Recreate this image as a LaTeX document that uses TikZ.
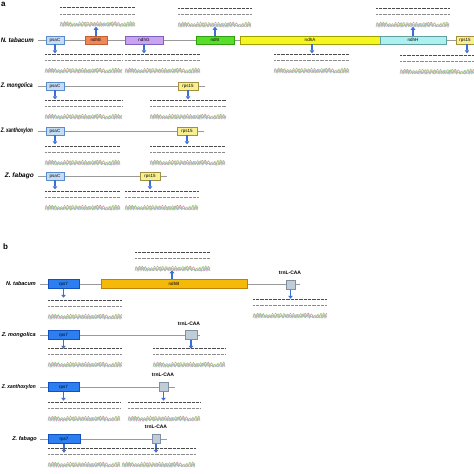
\documentclass[tikz,border=0pt]{standalone}
\usepackage{fontspec}
\setmainfont{Liberation Sans}
\usetikzlibrary{arrows.meta}
\definecolor{arrowblue}{HTML}{3A6FD8}
\definecolor{lineg}{HTML}{9A9A9A}
\definecolor{psaCf}{HTML}{C5DCF5}\definecolor{psaCd}{HTML}{5A8AD0}
\definecolor{ndhEf}{HTML}{F0875A}\definecolor{ndhEd}{HTML}{C06030}
\definecolor{ndhGf}{HTML}{C9A2F0}\definecolor{ndhGd}{HTML}{8060C0}
\definecolor{ndhIf}{HTML}{58DD2C}\definecolor{ndhId}{HTML}{30A010}
\definecolor{ndhAf}{HTML}{F5F522}\definecolor{ndhAd}{HTML}{A0A000}
\definecolor{ndhHf}{HTML}{AEF0F0}\definecolor{ndhHd}{HTML}{60A0A0}
\definecolor{rpsXVf}{HTML}{F8F090}\definecolor{rpsXVd}{HTML}{A09040}
\definecolor{rpsVIIf}{HTML}{2D7FF0}\definecolor{rpsVIId}{HTML}{1050C0}
\definecolor{ndhBf}{HTML}{F5B90A}\definecolor{ndhBd}{HTML}{C08000}
\definecolor{trnf}{HTML}{C0CCD8}\definecolor{trnd}{HTML}{8090A0}
\definecolor{chpink}{HTML}{E6A0C0}\definecolor{chgreen}{HTML}{9CD67E}
\definecolor{cholive}{HTML}{B4AC88}\definecolor{chblue}{HTML}{98B0E4}
\tikzset{
  gene/.style={draw, line width=0.5pt, inner sep=0pt, minimum height=8pt,
    font=\fontsize{4.5}{5}\selectfont},
  geneb/.style={gene, minimum height=9pt},
  spa/.style={font=\fontsize{6.5}{7}\selectfont\bfseries\itshape, anchor=east, inner sep=0pt},
  spb/.style={font=\fontsize{5.5}{6}\selectfont\bfseries\itshape, anchor=east, inner sep=0pt},
  panel/.style={font=\fontsize{8}{9}\selectfont\bfseries, inner sep=0pt},
  bbone/.style={draw=lineg, line width=0.8pt},
  arr/.style={draw=arrowblue, line width=1.5pt, -{Triangle[width=4.5pt,length=3pt]}},
  seqA/.style={draw=black!70, line width=0.85pt, dash pattern=on 0.8pt off 0.5pt},
  seqB/.style={draw=black!45, line width=0.7pt, dash pattern=on 0.7pt off 0.6pt},
  chr/.style={line width=0.45pt},
  trnlab/.style={font=\fontsize{5}{6}\selectfont\bfseries}
}
\newcommand\seqblk[3]{%
  \draw[seqA] (#1,#3) -- (#2,#3);
  \draw[seqB] (#1,#3+6.5) -- (#2,#3+6.5);
  \draw[chr,draw=cholive] plot[domain=0:#2-#1,samples=150] ({#1+\x},{#3+19-5*abs(sin(60*\x))*(0.35+0.65*abs(sin(11*\x+30)))});
  \draw[chr,draw=chpink] plot[domain=0:#2-#1,samples=150] ({#1+\x},{#3+19-4.5*abs(sin(47*\x+40))*(0.3+0.7*abs(sin(7*\x+70)))});
  \draw[chr,draw=chgreen] plot[domain=0:#2-#1,samples=150] ({#1+\x},{#3+19-4.6*abs(sin(53*\x+80))*(0.3+0.7*abs(sin(9*\x+10)))});
  \draw[chr,draw=chblue,opacity=0.8] plot[domain=0:#2-#1,samples=150] ({#1+\x},{#3+19-3.4*abs(sin(41*\x+20))*(0.3+0.7*abs(sin(5*\x+50)))});
}
% name, x1, x2, y, fill, draw, label, style
\newcommand\genebox[8]{%
  \node[#8, fill=#5, draw=#6, minimum width={#3-#2}] (#1) at ({(#2+#3)/2},#4) {#7};
}
\newcommand\fitlab[2]{\resizebox{#1}{\height}{#2}}
\begin{document}
\begin{tikzpicture}[x=1pt,y=-1pt]
\useasboundingbox[fill=white] (0,0) rectangle (474,474);

% ================= panel a =================
\node[panel, anchor=north west] (pa) at (1,2) {a};

% ---- N. tabacum (a)
\node[spa] (sa1) at (34,40) {\fitlab{33pt}{N. tabacum}};
\coordinate (la1s) at (38,40); \coordinate (la1e) at (480,40);
\draw[bbone] (la1s) -- (la1e);
\genebox{psaCa}{46}{64}{40}{psaCf}{psaCd}{psaC}{gene}
\genebox{ndhE}{85}{107}{40}{ndhEf}{ndhEd}{ndhE}{gene}
\genebox{ndhG}{125}{163}{40}{ndhGf}{ndhGd}{ndhG}{gene}
\genebox{ndhI}{196}{234}{40}{ndhIf}{ndhId}{ndhI}{gene}
\genebox{ndhA}{240}{380}{40}{ndhAf}{ndhAd}{ndhA}{gene}
\genebox{ndhH}{380}{446}{40}{ndhHf}{ndhHd}{ndhH}{gene}
\genebox{rpsa}{456}{480}{40}{rpsXVf}{rpsXVd}{\hspace*{-6pt}rps15}{gene}
\draw[arr] (psaCa.south) -- ++(0,9);
\draw[arr] (ndhE.north) -- ++(0,-9);
\draw[arr] (ndhG.south) -- ++(0,9);
\draw[arr] (ndhI.north) -- ++(0,-9);
\draw[arr] ([xshift=2pt]ndhA.south) -- ++(0,9);
\draw[arr] (ndhH.north) -- ++(0,-9);
\draw[arr] ([xshift=-1pt]rpsa.south) -- ++(0,9);
\seqblk{60}{135}{7.5}
\seqblk{178}{251}{8}
\seqblk{376}{449}{8}
\seqblk{45}{122}{54}
\seqblk{125}{200}{54}
\seqblk{274}{349}{54}
\seqblk{400}{476}{55}

% ---- Z. mongolica (a)
\node[spa] (sa2) at (33,86) {\fitlab{32pt}{Z. mongolica}};
\coordinate (la2s) at (38,86); \coordinate (la2e) at (205,86);
\draw[bbone] (la2s) -- (la2e);
\genebox{psaCb}{46}{64}{86}{psaCf}{psaCd}{psaC}{gene}
\genebox{rpsb}{178}{198}{86}{rpsXVf}{rpsXVd}{rps15}{gene}
\draw[arr] (psaCb.south) -- ++(0,9);
\draw[arr] (rpsb.south) -- ++(0,9);
\seqblk{45}{122}{100}
\seqblk{150}{226}{100}

% ---- Z. xanthoxylon (a)
\node[spa] (sa3) at (33,131) {\fitlab{32pt}{Z. xanthoxylon}};
\coordinate (la3s) at (38,131); \coordinate (la3e) at (204,131);
\draw[bbone] (la3s) -- (la3e);
\genebox{psaCc}{46}{64}{131}{psaCf}{psaCd}{psaC}{gene}
\genebox{rpsc}{177}{197}{131}{rpsXVf}{rpsXVd}{rps15}{gene}
\draw[arr] (psaCc.south) -- ++(0,9);
\draw[arr] (rpsc.south) -- ++(0,9);
\seqblk{45}{120}{146}
\seqblk{150}{225}{146}

% ---- Z. fabago (a)
\node[spa] (sa4) at (34,176) {Z. fabago};
\coordinate (la4s) at (38,176); \coordinate (la4e) at (167,176);
\draw[bbone] (la4s) -- (la4e);
\genebox{psaCd}{46}{64}{176}{psaCf}{psaCd}{psaC}{gene}
\genebox{rpsd}{140}{160}{176}{rpsXVf}{rpsXVd}{rps15}{gene}
\draw[arr] (psaCd.south) -- ++(0,9);
\draw[arr] (rpsd.south) -- ++(0,9);
\seqblk{45}{120}{191}
\seqblk{125}{198}{191}

% ================= panel b =================
\node[panel, anchor=north west] (pb) at (3,243) {b};

% ---- N. tabacum (b)
\node[spb] (sb1) at (36,284) {N. tabacum};
\coordinate (lb1s) at (40,284); \coordinate (lb1e) at (300,284);
\draw[bbone] (lb1s) -- (lb1e);
\genebox{rps7a}{48}{79}{284}{rpsVIIf}{rpsVIId}{rps7}{geneb}
\genebox{ndhB}{101}{247}{284}{ndhBf}{ndhBd}{ndhB}{geneb}
\genebox{trna}{286}{295}{285}{trnf}{trnd}{}{geneb}
\node[trnlab, anchor=south] (ta) at (290,278) {trnL-CAA};
\draw[arr] (rps7a.south) -- ++(0,9);
\draw[arr] ([xshift=-2pt]ndhB.north) -- ++(0,-9);
\draw[arr] (trna.south) -- ++(0,9);
\seqblk{135}{210}{252}
\seqblk{48}{122}{300}
\seqblk{253}{327}{299}

% ---- Z. mongolica (b)
\node[spb] (sb2) at (36,335) {\fitlab{34pt}{Z. mongolica}};
\coordinate (lb2s) at (40,335); \coordinate (lb2e) at (200,335);
\draw[bbone] (lb2s) -- (lb2e);
\genebox{rps7b}{48}{79}{335}{rpsVIIf}{rpsVIId}{rps7}{geneb}
\genebox{trnb}{185}{197}{335}{trnf}{trnd}{}{geneb}
\node[trnlab, anchor=south] (tb) at (189,329) {trnL-CAA};
\draw[arr] (rps7b.south) -- ++(0,9);
\draw[arr] (trnb.south) -- ++(0,9);
\seqblk{48}{122}{348}
\seqblk{153}{225}{348}

% ---- Z. xanthoxylon (b)
\node[spb] (sb3) at (36,387) {\fitlab{34pt}{Z. xanthoxylon}};
\coordinate (lb3s) at (40,387); \coordinate (lb3e) at (175,387);
\draw[bbone] (lb3s) -- (lb3e);
\genebox{rps7c}{48}{79}{387}{rpsVIIf}{rpsVIId}{rps7}{geneb}
\genebox{trnc}{159}{168}{387}{trnf}{trnd}{}{geneb}
\node[trnlab, anchor=south] (tc) at (163,380) {trnL-CAA};
\draw[arr] (rps7c.south) -- ++(0,9);
\draw[arr] (trnc.south) -- ++(0,9);
\seqblk{48}{120}{402}
\seqblk{128}{200}{402}

% ---- Z. fabago (b)
\node[spb] (sb4) at (37,439) {Z. fabago};
\coordinate (lb4s) at (40,439); \coordinate (lb4e) at (167,439);
\draw[bbone] (lb4s) -- (lb4e);
\genebox{rps7d}{48}{80}{439}{rpsVIIf}{rpsVIId}{rps7}{geneb}
\genebox{trnd4}{152}{160}{439}{trnf}{trnd}{}{geneb}
\node[trnlab, anchor=south] (td) at (156,432) {trnL-CAA};
\draw[arr] (rps7d.south) -- ++(0,9);
\draw[arr] (trnd4.south) -- ++(0,9);
\seqblk{48}{120}{448}
\seqblk{122}{195}{448}
\end{tikzpicture}
\end{document}
